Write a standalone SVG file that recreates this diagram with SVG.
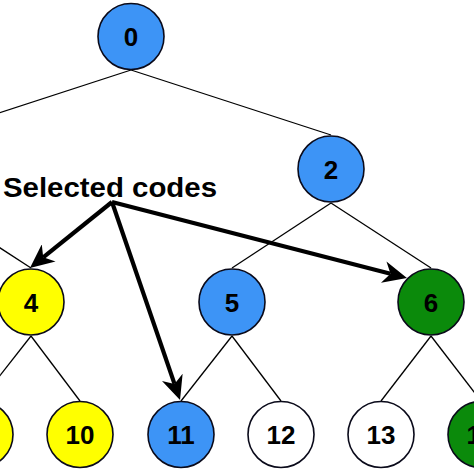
<svg xmlns="http://www.w3.org/2000/svg" width="474" height="474" viewBox="0 0 474 474">
<style>
.edge{stroke:#000;stroke-width:1.3;fill:none}
.arrow{stroke:#000;stroke-width:4.2;fill:none;marker-end:url(#head)}
.node circle{stroke:#0a0a1a;stroke-width:1.6}
.blue{fill:#3d94f6}
.yellow{fill:#ffff00}
.green{fill:#0b8a0b}
.white{fill:#ffffff}
.node text{font-family:"Liberation Sans",Arial,sans-serif;font-weight:bold;font-size:26px;text-anchor:middle;fill:#000}
.label{font-family:"Liberation Sans",Arial,sans-serif;font-weight:bold;font-size:27px;fill:#000}
</style>
<defs>
<marker id="head" markerUnits="userSpaceOnUse" viewBox="0 0 24 22" markerWidth="24" markerHeight="22" refX="7" refY="11" orient="auto">
<path d="M0,0 L24,11 L0,22 L7,11 z" fill="#000"/>
</marker>
</defs>
<rect width="474" height="474" fill="#fff"/>
<g id="connectors">
<line class="edge" x1="131" y1="70" x2="-69" y2="135"/>
<line class="edge" x1="131" y1="70" x2="331" y2="135"/>
<line class="edge" x1="-69" y1="203" x2="31" y2="268"/>
<line class="edge" x1="331" y1="203" x2="232" y2="268"/>
<line class="edge" x1="331" y1="203" x2="431" y2="268"/>
<line class="edge" x1="31" y1="336" x2="-20" y2="401"/>
<line class="edge" x1="31" y1="336" x2="80" y2="401"/>
<line class="edge" x1="232" y1="336" x2="181" y2="401"/>
<line class="edge" x1="232" y1="336" x2="281" y2="401"/>
<line class="edge" x1="431" y1="336" x2="381" y2="401"/>
<line class="edge" x1="431" y1="336" x2="481" y2="401"/>
</g>
<g id="node0" class="node"><circle class="blue" cx="131" cy="36.5" r="33"/><text x="131" y="46">0</text></g>
<g id="node2" class="node"><circle class="blue" cx="331" cy="169" r="33"/><text x="331" y="178.5">2</text></g>
<g id="node4" class="node"><circle class="yellow" cx="31" cy="302" r="33"/><text x="31" y="311.5">4</text></g>
<g id="node5" class="node"><circle class="blue" cx="232" cy="302" r="33"/><text x="232" y="311.5">5</text></g>
<g id="node6" class="node"><circle class="green" cx="431" cy="302" r="33"/><text x="431" y="311.5">6</text></g>
<g id="node9" class="node"><circle class="yellow" cx="-20" cy="434.5" r="33"/></g>
<g id="node10" class="node"><circle class="yellow" cx="80" cy="434.5" r="33"/><text x="80" y="444">10</text></g>
<g id="node11" class="node"><circle class="blue" cx="181" cy="434.5" r="33"/><text x="181" y="444">11</text></g>
<g id="node12" class="node"><circle class="white" cx="281" cy="434.5" r="33"/><text x="281" y="444">12</text></g>
<g id="node13" class="node"><circle class="white" cx="381" cy="434.5" r="33"/><text x="381" y="444">13</text></g>
<g id="node14" class="node"><circle class="green" cx="481" cy="434.5" r="33"/><text x="481" y="444">14</text></g>
<g id="selected">
<text class="label" x="3" y="196.5" textLength="214" lengthAdjust="spacingAndGlyphs">Selected codes</text>
<g id="arrows">
<line class="arrow" x1="112" y1="202" x2="43.2" y2="257.3"/>
<line class="arrow" x1="112" y1="202" x2="174.5" y2="383.9"/>
<line class="arrow" x1="112" y1="202" x2="390.5" y2="273.8"/>
</g>
</g>
</svg>
